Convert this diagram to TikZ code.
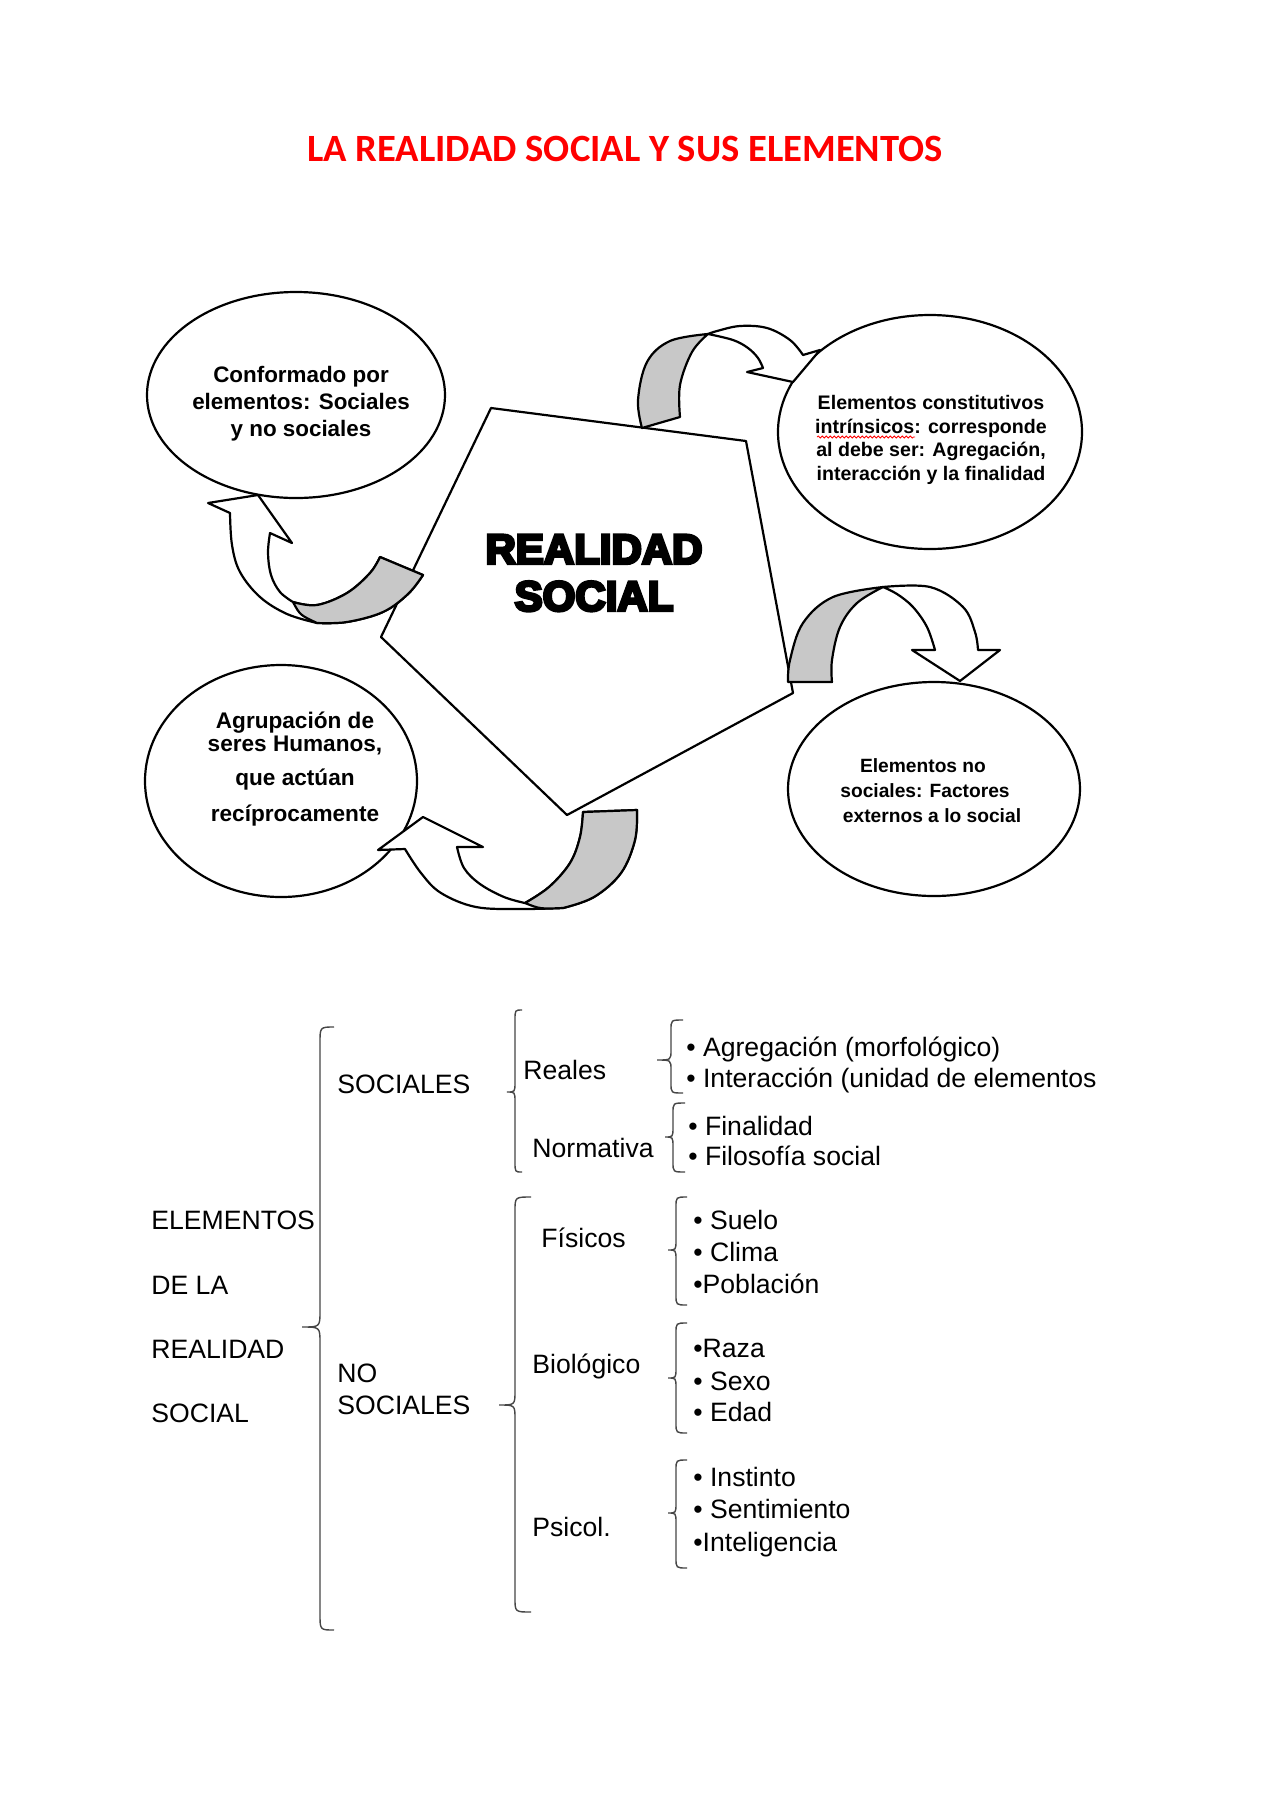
\documentclass[tikz,border=0pt]{standalone}
\usepackage{fontspec}
\setmainfont{Liberation Sans}
\newfontfamily\titlefont{Carlito}
\newfontfamily\heavyfont{Liberation Sans}[BoldFeatures={FakeBold=7}]
\usetikzlibrary{shapes.geometric,decorations.pathmorphing}
\definecolor{titlered}{RGB}{255,0,0}
\definecolor{foldgray}{RGB}{200,200,200}
\definecolor{bracegray}{RGB}{70,70,70}
\tikzset{
  outline/.style={draw=black, line width=1.1pt, line join=round},
  bubble/.style={ellipse, outline, fill=white, inner sep=0pt},
  bubbletext/.style={align=center, inner sep=0pt},
  fold/.style={outline, fill=foldgray},
  band/.style={outline, fill=white},
  bracestyle/.style={draw=bracegray, line width=0.7pt},
  lbl/.style={anchor=base west, inner sep=0pt, font=\fontsize{13.3}{16}\selectfont},
  linetext/.style={anchor=base, inner sep=0pt},
  sm/.style={smooth, tension=0.6}
}
\newcommand\wbrace[7]{\draw[bracestyle] (#1,#4) .. controls (#2,#4) .. (#2,#4+#7) -- (#2,#5-#7) .. controls (#2,#5) .. (#3,#5) .. controls (#2,#5) .. (#2,#5+#7) -- (#2,#6-#7) .. controls (#2,#6) .. (#1,#6);}
\begin{document}
\begin{tikzpicture}[x=0.5pt,y=-0.5pt]
\path[use as bounding box, fill=white] (0,0) rectangle (1280,1811);

% title
\node[anchor=base, inner sep=0pt, text=titlered, font=\titlefont\bfseries\fontsize{19.3}{23}\selectfont] (title) at (625,161) {LA REALIDAD SOCIAL Y SUS ELEMENTOS};

% pentagon
\draw[outline, fill=white] (491,408) -- (746,441) -- (793,693) -- (567,815) -- (381,637) -- cycle;
\node[align=center, inner sep=0pt, font=\heavyfont\bfseries\fontsize{21}{23.5}\selectfont] (rs) at (594,573) {REALIDAD\\SOCIAL};

% ellipses
\node[bubble, minimum width=149pt, minimum height=103pt] (e1) at (296,395) {};
\node[bubble, minimum width=152pt, minimum height=117pt] (e2) at (930,432) {};
\node[bubble, minimum width=136pt, minimum height=116pt] (e3) at (281,781) {};
\node[bubble, minimum width=146pt, minimum height=107pt] (e4) at (934,789) {};

\node[bubbletext, font=\bfseries\fontsize{11.2}{13.5}\selectfont] (t1) at (301,404) {Conformado por\\elementos: Sociales\\y no sociales};
\node[bubbletext, font=\bfseries\fontsize{9.8}{11.7}\selectfont] (t2) at (931,440) {Elementos constitutivos\\intrínsicos: corresponde\\al debe ser: Agregación,\\interacción y la finalidad};
\draw[red, line width=0.4pt, decorate, decoration={snake, amplitude=0.5pt, segment length=2pt}] (817,437) -- (915,437);
\node[bubbletext, font=\bfseries\fontsize{11.3}{11.5}\selectfont] (t3) at (295,769) {Agrupación de\\seres Humanos,\\[5.5pt]que actúan\\[6.5pt]recíprocamente};
\node[linetext, font=\bfseries\fontsize{9.6}{12.5}\selectfont] (t4a) at (923,772) {Elementos no};
\node[linetext, font=\bfseries\fontsize{9.6}{12.5}\selectfont] (t4b) at (925,797) {sociales: Factores};
\node[linetext, font=\bfseries\fontsize{9.6}{12.5}\selectfont] (t4c) at (932,822) {externos a lo social};

% arrow A (to e1)
\draw[band] (208,503) -- (258,495) -- (292,543) -- (270,533)
  -- plot[sm] coordinates {(270,533) (268,553) (271,575) (280,592) (293,602)}
  -- plot[sm] coordinates {(293,602) (317,605) (347,593) (370,573) (380,557)}
  -- (423,575)
  -- plot[sm] coordinates {(423,575) (408,594) (383,612) (347,622) (317,623)}
  -- plot[sm] coordinates {(317,623) (287,614) (260,597) (240,572) (232,545) (230,513)}
  -- cycle;
\draw[fold] (293,602)
  -- plot[sm] coordinates {(293,602) (317,605) (347,593) (370,573) (380,557)}
  -- (423,575)
  -- plot[sm] coordinates {(423,575) (408,594) (383,612) (347,622) (317,623)}
  .. controls (300,615) .. (293,602) -- cycle;

% arrow B (to e2)
\draw[fold] (642,428)
  -- plot[sm] coordinates {(642,428) (638,400) (647,362) (670,341) (708,334)}
  -- plot[sm] coordinates {(708,334) (692,352) (680,385) (680,417)}
  -- cycle;
\draw[band] (708,334)
  -- plot[sm] coordinates {(708,334) (717,331) (740,326) (767,328) (790,340) (803,355)}
  -- (820,350) -- (793,382) -- (747,372) -- (763,368)
  -- plot[sm] coordinates {(763,368) (758,358) (748,348) (733,340) (708,334)}
  -- cycle;

% arrow C (to e4)
\draw[fold] (788,682)
  -- plot[sm] coordinates {(788,682) (790,660) (803,623) (833,597) (883,587)}
  -- plot[sm] coordinates {(883,587) (857,603) (840,627) (832,660) (832,682)}
  -- cycle;
\draw[band] (883,587)
  -- plot[sm] coordinates {(883,587) (930,587) (963,607) (975,632) (978,650)}
  -- (1000,650) -- (960,681) -- (912,650) -- (935,650)
  -- plot[sm] coordinates {(935,650) (927,627) (913,607) (897,594) (883,587)}
  -- cycle;

% arrow D (to e3)
\draw[band] (378,850) -- (423,817) -- (483,847) -- (457,847)
  -- plot[sm] coordinates {(457,847) (464,868) (480,884) (504,897) (525,903)}
  -- plot[sm] coordinates {(525,903) (549,887) (570,863) (580,837) (583,812)}
  -- (637,810)
  -- plot[sm] coordinates {(637,810) (635,840) (621,873) (594,897) (563,908)}
  -- plot[sm] coordinates {(563,908) (521,909) (476,907) (441,893) (421,873) (405,849)}
  -- cycle;
\draw[fold] (525,903)
  -- plot[sm] coordinates {(525,903) (549,887) (570,863) (580,837) (583,812)}
  -- (637,810)
  -- plot[sm] coordinates {(637,810) (635,840) (621,873) (594,897) (563,908)}
  .. controls (540,909) .. (525,903) -- cycle;

% braces
\wbrace{334}{320}{302}{1027}{1327}{1630}{16}
\wbrace{522}{515}{507}{1010}{1092}{1172}{10}
\wbrace{531}{515}{499}{1197}{1405}{1612}{14}
\wbrace{683}{671}{657}{1020}{1060}{1093}{10}
\wbrace{685}{673}{665}{1103}{1137}{1172}{10}
\wbrace{687}{676}{668}{1197}{1250}{1305}{10}
\wbrace{687}{676}{668}{1323}{1378}{1433}{10}
\wbrace{687}{676}{668}{1460}{1513}{1568}{10}

% labels
\node[lbl] (el1) at (151,1229.5) {ELEMENTOS};
\node[lbl] (el2) at (151,1294.5) {DE LA};
\node[lbl] (el3) at (151,1358.5) {REALIDAD};
\node[lbl] (el4) at (151,1422.5) {SOCIAL};
\node[lbl] (soc) at (337,1093.5) {SOCIALES};
\node[lbl] (nos1) at (337,1382.5) {NO};
\node[lbl] (nos2) at (337,1414.5) {SOCIALES};
\node[lbl] (rea) at (523,1079.5) {Reales};
\node[lbl] (nor) at (532,1157) {Normativa};
\node[lbl] (fis) at (541,1247.5) {Físicos};
\node[lbl] (bio) at (532,1373.5) {Biológico};
\node[lbl] (psi) at (532,1536.5) {Psicol.};

\node[lbl] (i1) at (686,1056) {• Agregación (morfológico)};
\node[lbl] (i2) at (686,1087) {• Interacción (unidad de elementos};
\node[lbl] (i3) at (688,1135) {• Finalidad};
\node[lbl] (i4) at (688,1165) {• Filosofía social};
\node[lbl] (i5) at (693,1229.5) {• Suelo};
\node[lbl] (i6) at (693,1261.5) {• Clima};
\node[lbl] (i7) at (693,1293.5) {•Población};
\node[lbl] (i8) at (693,1357.5) {•Raza};
\node[lbl] (i9) at (693,1390.5) {• Sexo};
\node[lbl] (i10) at (693,1421.5) {• Edad};
\node[lbl] (i11) at (693,1486.5) {• Instinto};
\node[lbl] (i12) at (693,1518.5) {• Sentimiento};
\node[lbl] (i13) at (693,1551.5) {•Inteligencia};
\end{tikzpicture}
\end{document}
